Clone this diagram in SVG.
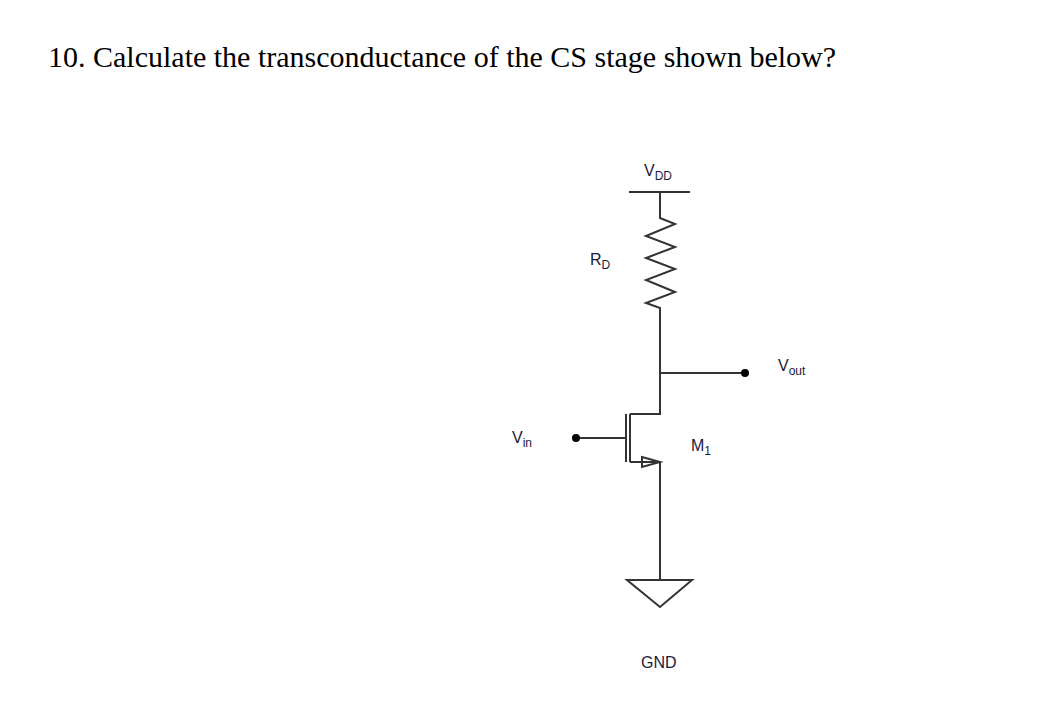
<svg xmlns="http://www.w3.org/2000/svg" width="1059" height="728" viewBox="0 0 1059 728">
<style>
.w{stroke:#333;stroke-width:2;fill:none}
.l{font-family:"Liberation Sans",Arial,sans-serif;font-size:16px;fill:#1a1a3a}
.s{font-size:12px}
</style>
<rect width="1059" height="728" fill="#fff"/>
<text x="48" y="67" font-family="Liberation Serif,serif" font-size="30" fill="#000">10. Calculate the transconductance of the CS stage shown below?</text>
<g id="connectors">
<path class="w" d="M660 192V218L675 224L646 236L675 247L646 258L675 269L646 280L675 292L646 303L660 308V414H630"/>
<path class="w" d="M660 373H745"/>
<path class="w" d="M576 438H626"/>
<path class="w" d="M630 462H660V580"/>
</g>
<g id="vdd"><path class="w" d="M629 192H690"/><text class="l" x="644" y="176">V<tspan class="s" dy="4">DD</tspan></text></g>
<g id="rd"><text class="l" x="590" y="265">R<tspan class="s" dy="4">D</tspan></text></g>
<g id="vout"><circle cx="745" cy="373" r="4" fill="#000"/><text class="l" x="778" y="371">V<tspan class="s" dy="4">out</tspan></text></g>
<g id="vin"><circle cx="576" cy="438" r="4" fill="#000"/><text class="l" x="512" y="443">V<tspan class="s" dy="4">in</tspan></text></g>
<g id="m1"><path class="w" d="M626 414V462M630 414V462"/><path class="w" d="M642 457L660 462L642 467Z"/><text class="l" x="691" y="451">M<tspan class="s" dy="4">1</tspan></text></g>
<g id="gnd"><path class="w" d="M627 580H692L660 607Z"/><text class="l" x="641" y="668">GND</text></g>
</svg>
